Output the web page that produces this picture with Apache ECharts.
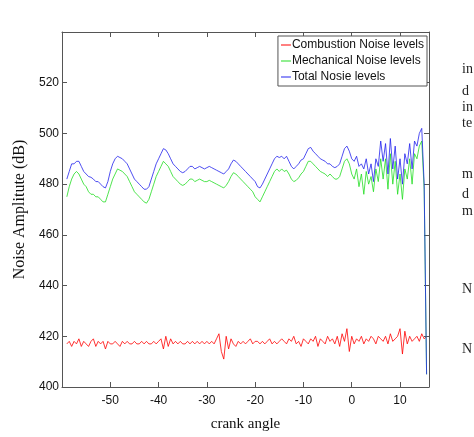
<!DOCTYPE html>
<html>
<head>
<meta charset="utf-8">
<script src="https://cdn.jsdelivr.net/npm/echarts@6/dist/echarts.min.js"></script>
</head>
<body style="margin:0;background:#fff">
<div id="main" style="width:474px;height:437px"></div>
<script>
// crank angle step 0.5 deg from -59
var startAngle = -59, step = 0.5;
var total = [482,485,488,488,489,489,487,485,484,
  483,482.7,482,481,481,480,479,478.5,481,485,
  488,490,491,490.5,490,489,488,486,484,482,
  481,480,479,478,478,479,482,485,488,490,
  492,494,493.5,492,490,488,487,486,485,484.5,
  485,486,487,487,486,486.5,487,486.5,486,486.5,
  487,486.5,486,485.5,485,484.5,484,485,486,488,
  489.5,489,488,487,486,485,484,483,482,481,
  479,478.5,480,482,484,486,488,490,491,490.5,
  491,490,491,489,487,486,487,488,489.5,490,
  492,494,494.5,493,492,491,490,489.5,489,488,
  488,487,486.5,487,488,491,494,495,493,490,
  489,491,487,488,486,490,484,488,481,490,
  487,497,489,496,484,498,486,495,482,490,
  480,492,488,496,486,497,495,500,502,480,405];
var mech = [475,479,482,484,485,484,482,480,479,
  477,476,476,475,475,474,473,473,476,479,
  482,484,486,485.5,485,484,483,481,479,477,
  476,475,474,473,472.5,474,477,480,483,485,
  487,489,488,487,485,483,482,481,480,479.5,
  480,481,482,482,481,481.5,482,481.5,481,481,
  481.5,481,480.5,480,479.5,479,478.5,479.5,481,483,
  484.5,484,483,482,481,480,479,478,477,475,
  474,473,475,477,479,481,483,485,486,485,
  486,485,485.5,484,482,481,481.5,482.5,484,485,
  487,489,489,488,487,486,485,484.5,484,483,
  484,483,482,482,483,486,489,490,488,484,
  482,486,479,484,476,485,480,483,477,486,
  481,490,482,490,478,492,480,489,476,484,
  474,486,482,490,480,492,490,495,497,478,405];
var comb = [417,418,416,418,417,419,416,418,417,416,
  418,419,416,418,417,418,415,418,417,417,
  418,417,416,418,417,418,417,417,418,417,
  417,418,417,418,417,417,418,417,418,419,
  415,420,416,419,417,418,417,418,417,417,
  418,417,418,417,418,417,418,417,418,417,
  418,417,419,421,414,411,420,415,419,417,
  416,418,417,418,417,418,419,417,418,418,
  417,418,417,418,419,417,418,417,418,419,
  418,417,419,418,420,417,418,416,419,418,
  417,419,418,420,416,419,418,417,420,418,
  419,417,420,416,421,418,423,414,420,417,
  419,418,420,417,419,418,420,419,417,420,
  419,418,420,417,421,418,419,420,423,413,
  422,417,420,418,419,420,418,421,419,420];
var names = ['Combustion Noise levels', 'Mechanical Noise levels', 'Total Nosie levels'];
var colors = ['#ff0000', '#22dd22', '#2222ee'];

function pairs(arr) {
  return arr.map(function (v, i) { return [startAngle + i * step, v]; });
}

var chart = echarts.init(document.getElementById('main'));
var narrow = '"Liberation Sans Narrow", "Liberation Sans", Arial, sans-serif';
var axisBase = {
  axisLine: { onZero: false, lineStyle: { color: '#555', width: 1 } },
  axisTick: { inside: true, length: 5, lineStyle: { color: '#555' } },
  splitLine: { show: false }
};
chart.setOption({
  animation: false,
  grid: { left: 62, right: 45, top: 32, bottom: 50 },
  legend: {
    data: names,
    orient: 'vertical',
    right: 47, top: 36,
    borderColor: '#555', borderWidth: 1, borderRadius: 0,
    padding: [3, 3, 3, 3],
    itemGap: 4, itemWidth: 10, itemHeight: 1,
    icon: 'rect',
    backgroundColor: '#fff',
    textStyle: { fontFamily: narrow, fontSize: 12, color: '#111', padding: [0, 0, 0, -4] }
  },
  xAxis: [
    Object.assign({ type: 'value', min: -60, max: 16, interval: 10,
      name: 'crank angle', nameLocation: 'middle', nameGap: 30,
      nameTextStyle: { fontFamily: '"Liberation Serif", serif', fontSize: 15, color: '#111' },
      axisLabel: { fontFamily: narrow, fontSize: 12, color: '#111',
        formatter: function (v) { return (v === -60 || v === 16) ? '' : v; } } }, axisBase),
    Object.assign({ type: 'value', position: 'top', min: -60, max: 16, interval: 10,
      axisLabel: { show: false } }, axisBase)
  ],
  yAxis: [
    Object.assign({ type: 'value', min: 400, max: 540, interval: 20,
      name: 'Noise Amplitute (dB)', nameLocation: 'middle', nameGap: 28,
      nameTextStyle: { fontFamily: '"Liberation Serif", serif', fontSize: 16, color: '#111' },
      axisLabel: { fontFamily: narrow, fontSize: 12, color: '#111', margin: 3,
        formatter: function (v) { return v === 540 ? '' : v; } } }, axisBase),
    Object.assign({ type: 'value', position: 'right', min: 400, max: 540, interval: 20,
      axisLabel: { show: false } }, axisBase)
  ],
  series: [comb, mech, total].map(function (arr, k) {
    return {
      name: names[k], type: 'line', data: pairs(arr), showSymbol: false,
      color: colors[k], lineStyle: { width: 0.8, color: colors[k] }
    };
  }),
  graphic: [
    ['in', 70], ['d', 92], ['in', 108], ['te', 124], ['m', 175], ['d', 195], ['m', 212], ['N', 290], ['N', 350]
  ].map(function (t) {
    return { type: 'text', left: 462, top: t[1] - 8,
      style: { text: t[0], font: '14px "Liberation Serif", serif', fill: '#222' } };
  })
});
</script>
</body>
</html>
